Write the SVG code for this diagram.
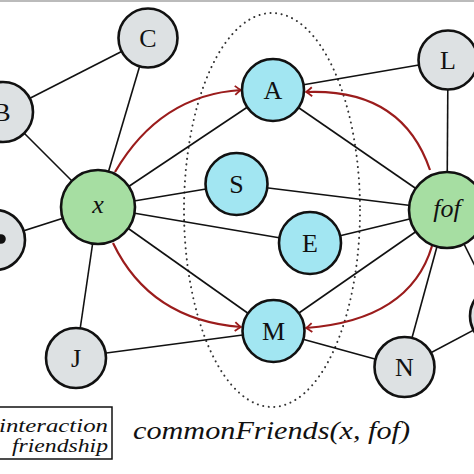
<svg xmlns="http://www.w3.org/2000/svg" width="474" height="474" viewBox="0 0 474 474">
<defs>
<style>
.n circle{stroke:#111;stroke-width:2.6}
.g{fill:#dde1e3}.b{fill:#a2e6f2}.v{fill:#a6dea2}
.lbl{font-family:"Liberation Serif",serif;font-size:26px;text-anchor:middle;fill:#111}
.it{font-style:italic}
#edges line{stroke:#111;stroke-width:1.6}
#arrows path{stroke:#9b1c1c;stroke-width:2.2;fill:none;marker-end:url(#ah)}
.leg{font-family:"Liberation Serif",serif;font-style:italic;fill:#111}
</style>
<marker id="ah" viewBox="-8 -6 10 12" refX="0" refY="0" markerWidth="10" markerHeight="12" markerUnits="userSpaceOnUse" orient="auto">
<path d="M-6,-4.5 Q-2,-1 0,0 Q-2,1 -6,4.5" stroke="#9b1c1c" stroke-width="1.8" fill="none"/>
</marker>
</defs>
<rect width="474" height="474" fill="#fff"/>
<rect x="0" y="0" width="474" height="2" fill="#bbb"/>
<ellipse cx="272" cy="210" rx="88" ry="197" fill="none" stroke="#333" stroke-width="2" stroke-dasharray="0.1 5.5" stroke-linecap="round"/>
<g id="edges">
<line x1="3" y1="112" x2="148" y2="38"/>
<line x1="3" y1="112" x2="98" y2="207"/>
<line x1="148" y1="38" x2="98" y2="207"/>
<line x1="-5" y1="240" x2="98" y2="207"/>
<line x1="76" y1="357" x2="98" y2="207"/>
<line x1="98" y1="207" x2="273" y2="90"/>
<line x1="98" y1="207" x2="236" y2="184"/>
<line x1="98" y1="207" x2="310" y2="243"/>
<line x1="98" y1="207" x2="273" y2="331"/>
<line x1="76" y1="357" x2="273" y2="331"/>
<line x1="273" y1="90" x2="448" y2="60"/>
<line x1="273" y1="90" x2="447" y2="210"/>
<line x1="448" y1="60" x2="447" y2="210"/>
<line x1="236" y1="184" x2="447" y2="210"/>
<line x1="310" y1="243" x2="447" y2="210"/>
<line x1="273" y1="331" x2="447" y2="210"/>
<line x1="273" y1="331" x2="404" y2="367"/>
<line x1="404" y1="367" x2="447" y2="210"/>
<line x1="404" y1="367" x2="500" y2="316"/>
<line x1="447" y1="210" x2="500" y2="316"/>
</g>
<g id="arrows">
<path d="M115,172 Q160,95 241,90"/>
<path d="M430,170 Q402,88 306,92"/>
<path d="M113,243 Q150,320 241,327"/>
<path d="M432,246 Q410,320 306,328"/>
</g>
<g id="C" class="n"><circle class="g" cx="148" cy="38" r="29.5"/><text class="lbl" x="148" y="47">C</text></g>
<g id="B" class="n"><circle class="g" cx="3" cy="112" r="30"/><text class="lbl" x="2" y="121">B</text></g>
<g id="D" class="n"><circle class="g" cx="-5" cy="240" r="30"/><circle cx="1" cy="239" r="3.5" fill="#111" stroke="none"/></g>
<g id="x" class="n"><circle class="v" cx="98" cy="207" r="37"/><text class="lbl it" x="98" y="213">x</text></g>
<g id="J" class="n"><circle class="g" cx="76" cy="358" r="30"/><text class="lbl" x="76" y="367">J</text></g>
<g id="A" class="n"><circle class="b" cx="273" cy="90" r="31"/><text class="lbl" x="273" y="99">A</text></g>
<g id="S" class="n"><circle class="b" cx="236.5" cy="184" r="31"/><text class="lbl" x="236.5" y="193">S</text></g>
<g id="E" class="n"><circle class="b" cx="310" cy="243" r="31"/><text class="lbl" x="310" y="252">E</text></g>
<g id="M" class="n"><circle class="b" cx="273.5" cy="331" r="31"/><text class="lbl" x="273.5" y="340">M</text></g>
<g id="L" class="n"><circle class="g" cx="448" cy="60" r="29.5"/><text class="lbl" x="448" y="69">L</text></g>
<g id="fof" class="n"><circle class="v" cx="447" cy="210" r="38"/><text class="lbl it" x="447" y="217">fof</text></g>
<g id="N" class="n"><circle class="g" cx="404.5" cy="367" r="30"/><text class="lbl" x="404.5" y="376">N</text></g>
<g id="R" class="n"><circle class="g" cx="500" cy="316" r="30"/></g>
<g id="legend">
<rect x="-2" y="407" width="114" height="52" fill="none" stroke="#111" stroke-width="1.5"/>
<text class="leg" x="-1" y="432" font-size="19" textLength="109" lengthAdjust="spacingAndGlyphs">interaction</text>
<text class="leg" x="12" y="452" font-size="19" textLength="96" lengthAdjust="spacingAndGlyphs">friendship</text>
<text class="leg" x="133" y="439" font-size="25" textLength="277" lengthAdjust="spacingAndGlyphs">commonFriends(x, fof)</text>
</g>
</svg>
